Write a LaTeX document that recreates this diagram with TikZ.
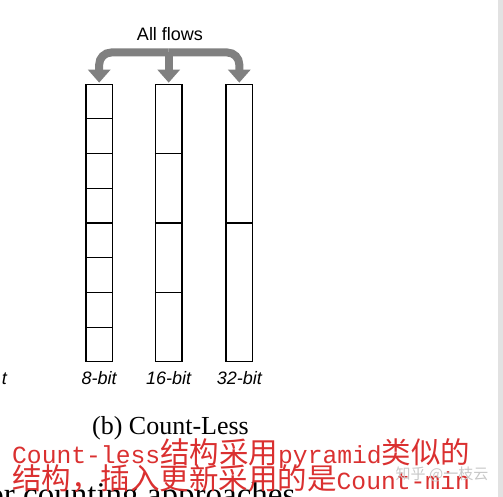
\documentclass[tikz,border=0pt]{standalone}
\usepackage{fontspec}
\setmainfont{Liberation Serif}
\setsansfont{Liberation Sans}
\newfontfamily\cjk{Noto Sans CJK SC}
\newfontfamily\redmono{Liberation Mono}[Scale=0.836]
\usetikzlibrary{arrows.meta,calc,positioning}
\definecolor{flowgray}{RGB}{128,128,128}
\definecolor{notered}{RGB}{218,48,48}
\definecolor{markgray}{RGB}{200,200,200}
\definecolor{edgegray}{RGB}{226,226,226}

\begin{document}
\begin{tikzpicture}[x=1pt,y=-1pt,
  counter/.style={draw,line width=1.3pt,minimum width=26.5pt,minimum height=277.4pt,inner sep=0pt},
  flow/.style={draw=flowgray,line width=8pt,rounded corners=12pt,-{Triangle[width=22pt,length=13pt]},shorten >=1pt},
  bitlabel/.style={font=\sffamily\itshape\fontsize{18}{20}\selectfont,inner sep=0pt,anchor=base},
  redline/.style={text=notered,inner sep=0pt,anchor=base west,font=\fontsize{29.5}{30}\selectfont}]
\useasboundingbox (0,0) rectangle (503,497);
\clip (0,0) rectangle (503,497);
\fill[edgegray] (497.7,0) rectangle (503,497);

% counter arrays
\node[counter] (c8) at (99.2,223) {};
\node[counter] (c16) at (168.7,223) {};
\node[counter] (c32) at (239.3,223) {};
\foreach \i in {1,...,7}
  \draw[line width=1.3pt] ($(c8.north west)!\i/8!(c8.south west)$) -- ($(c8.north east)!\i/8!(c8.south east)$);
\foreach \i in {1,2,3}
  \draw[line width=1.3pt] ($(c16.north west)!\i/4!(c16.south west)$) -- ($(c16.north east)!\i/4!(c16.south east)$);
\draw[line width=1.3pt] ($(c32.north west)!0.5!(c32.south west)$) -- ($(c32.north east)!0.5!(c32.south east)$);

% flows
\node[font=\sffamily\fontsize{18}{20}\selectfont,inner sep=0pt,anchor=base] (all) at (170,41) {All flows};
\coordinate (hub) at (168.7,52.5);
\draw[flow] (hub) -| (c8.north);
\draw[flow] (hub) -| (c32.north);
\draw[flow] (hub) -- (c16.north);

% labels
\node[bitlabel] (l8) at ([yshift=-22.3pt]c8.south) {8-bit};
\node[bitlabel] (l16) at ([yshift=-22.3pt]c16.south) {16-bit};
\node[bitlabel] (l32) at ([yshift=-22.3pt]c32.south) {32-bit};
\node[bitlabel,anchor=base east] (cut) at (7,384) {t};
\node[font=\fontsize{26}{28}\selectfont,inner sep=0pt,anchor=base] (cap) at (170.5,434) {(b) Count-Less};
\node[font=\fontsize{33}{35}\selectfont,inner sep=0pt,anchor=base west] (tail) at (-23.7,505) {for counting approaches};

% note
\node[redline] (note1) at (12,463) {{\redmono Count-less}{\cjk 结构采用}{\redmono pyramid}{\cjk 类似的}};
\node[redline] (note2) at (12,489.5) {{\cjk 结构，插入更新采用的是}{\redmono Count-min}};
\node[text=markgray,font=\cjk\fontsize{15}{16}\selectfont,inner sep=0pt] (mark) at (442,474) {知乎 @一枝云};
\end{tikzpicture}
\end{document}
